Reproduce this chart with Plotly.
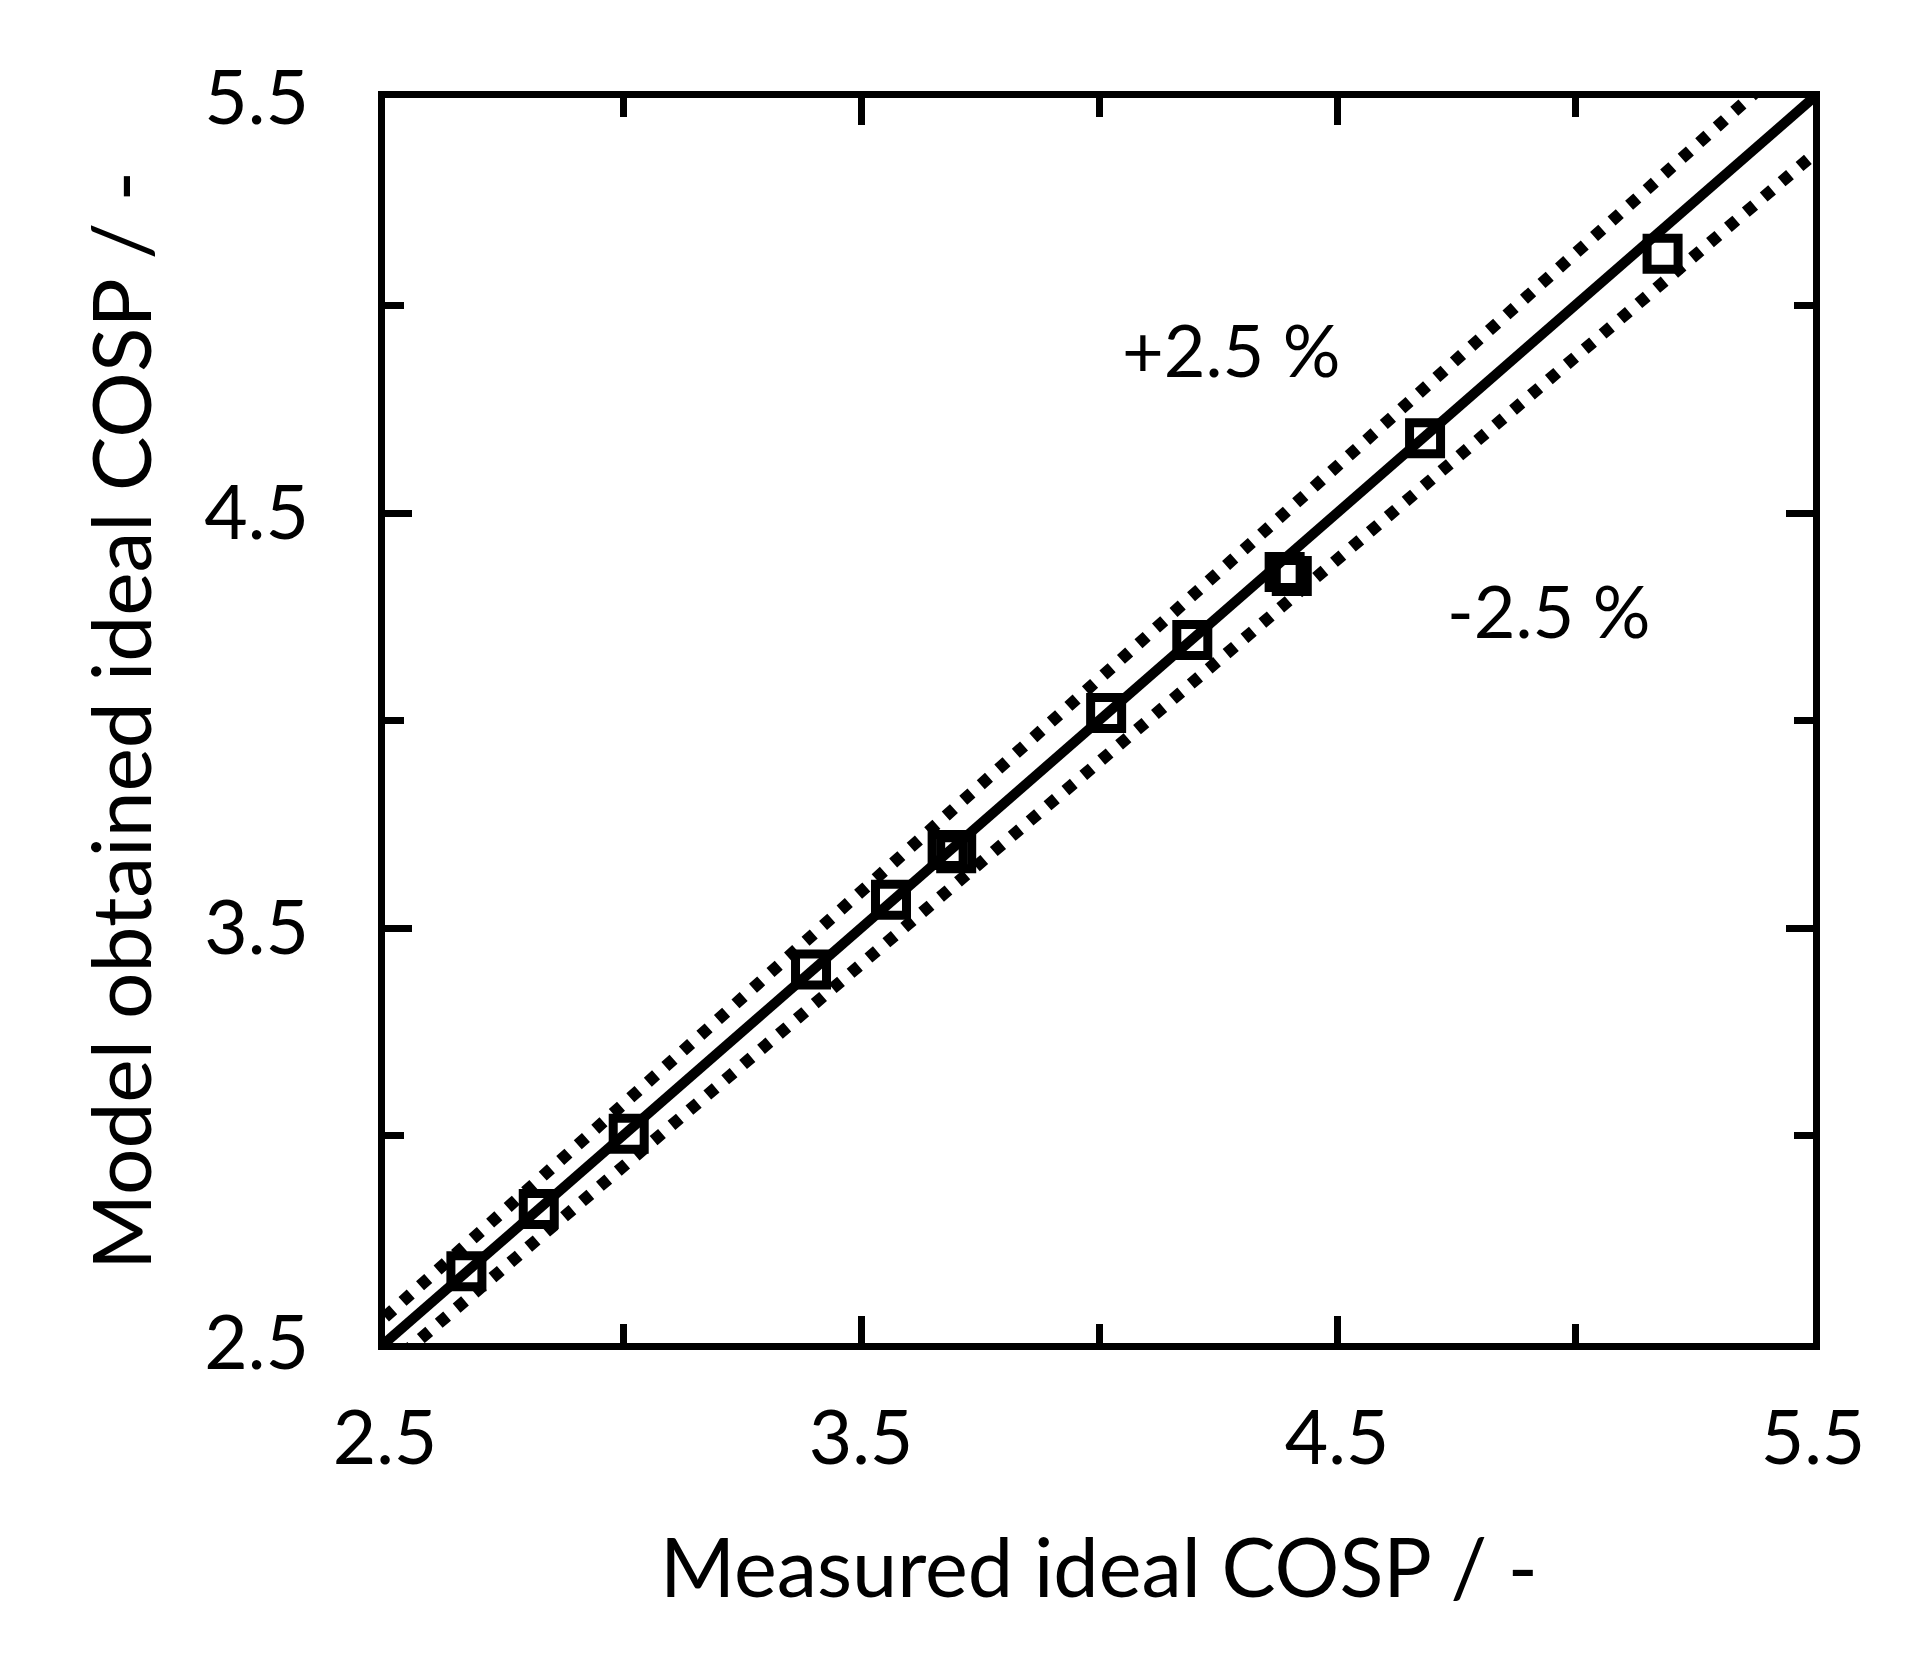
import plotly.graph_objects as go

# measured vs model ideal COSP
measured = [2.671, 2.823, 3.012, 3.395, 3.563, 3.682, 3.700, 4.015, 4.196, 4.390, 4.405, 4.685, 5.184]
model = [2.673, 2.823, 3.004, 3.400, 3.568, 3.688, 3.680, 4.018, 4.194, 4.358, 4.348, 4.680, 5.125]

# reference lines
line_x = [2.5, 5.5]
band = 0.025
upper_y = [x * (1 + band) for x in line_x]
lower_y = [x * (1 - band) for x in line_x]

major_ticks = [2.5, 3.5, 4.5, 5.5]
minor_ticks = [3.0, 4.0, 5.0]

FONT = "Lato"

fig = go.Figure()
fig.add_trace(go.Scatter(x=line_x, y=line_x, mode="lines",
                         line=dict(color="black", width=10)))
fig.add_trace(go.Scatter(x=line_x, y=upper_y, mode="lines",
                         line=dict(color="black", width=12, dash="11px,12.5px")))
fig.add_trace(go.Scatter(x=line_x, y=lower_y, mode="lines",
                         line=dict(color="black", width=12, dash="11px,12.5px")))
fig.add_trace(go.Scatter(x=measured, y=model, mode="markers",
                         marker=dict(symbol="square-open", size=31, color="black",
                                     line=dict(color="black", width=9))))

axis = dict(
    range=[2.5, 5.5],
    tickvals=major_ticks,
    ticktext=[f"{v:.1f}" for v in major_ticks],
    ticks="inside", ticklen=27, tickwidth=7, tickcolor="black",
    minor=dict(tickvals=minor_ticks, ticks="inside", ticklen=19,
               tickwidth=7, tickcolor="black"),
    showline=True, linewidth=7, linecolor="black", mirror="ticks",
    showgrid=False, zeroline=False,
    tickfont=dict(family=FONT, size=75, color="black"),
)

fig.update_layout(
    width=1928, height=1678,
    margin=dict(l=377, r=123, t=90, b=343),
    paper_bgcolor="white", plot_bgcolor="white",
    showlegend=False,
    xaxis=dict(axis, ticklabelstandoff=24,
               title=dict(text="Measured ideal COSP / -",
                          font=dict(family=FONT, size=81, color="black"),
                          standoff=64)),
    yaxis=dict(axis, ticklabelstandoff=54,
               title=dict(text="Model obtained ideal COSP / -",
                          font=dict(family=FONT, size=82, color="black"),
                          standoff=28)),
    annotations=[
        dict(x=4.278, y=4.895, text="+2.5 %", showarrow=False,
             font=dict(family=FONT, size=72, color="black")),
        dict(x=4.944, y=4.266, text="-2.5 %", showarrow=False,
             font=dict(family=FONT, size=72, color="black")),
    ],
)

fig.write_html("out.html")
